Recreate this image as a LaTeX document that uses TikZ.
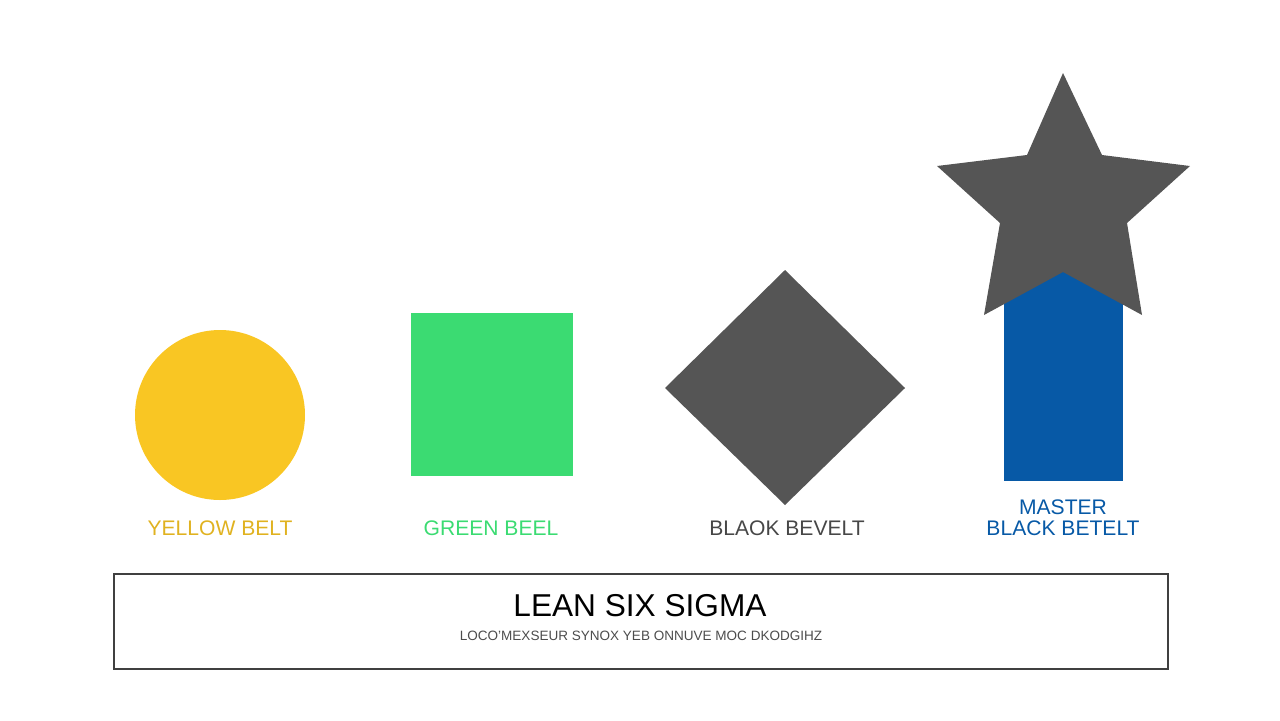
\documentclass[tikz,border=0pt]{standalone}
\usepackage{fontspec}
\setmainfont{Liberation Sans}
\definecolor{beltyellow}{HTML}{F9C623}
\definecolor{beltgreen}{HTML}{3BDB72}
\definecolor{beltgray}{HTML}{555555}
\definecolor{beltblue}{HTML}{0759A6}
\begin{document}
\begin{tikzpicture}[x=0.02cm, y=-0.02cm,
  beltlabel/.style={font=\fontsize{12}{13}\selectfont, inner sep=0pt},
  boxframe/.style={draw=black!75, line width=0.7pt}]
\useasboundingbox (0,0) rectangle (1280,720);
\fill[beltyellow] (220,415) circle (85);
\fill[beltgreen] (411,313) rectangle (573,476);
\fill[beltgray] (785,270) -- (905,388) -- (785,505) -- (665,388) -- cycle;
\fill[beltblue] (1004,250) rectangle (1123,481);
\fill[beltgray] (1063,73) -- (1102,155) -- (1190,166) -- (1127,223) -- (1142,315) -- (1063,272) -- (984,315) -- (1000,223) -- (937,166) -- (1027,155) -- cycle;
\node[beltlabel, text=beltyellow!90!black] (yellow) at (220,528) {YELLOW BELT};
\node[beltlabel, text=beltgreen] (green) at (491,528) {GREEN BEEL};
\node[beltlabel, text=black!72] (black) at (787,528) {BLAOK BEVELT};
\node[beltlabel, text=beltblue] (master) at (1063,507) {MASTER};
\node[beltlabel, text=beltblue] (masterblack) at (1063,528) {BLACK BETELT};
\draw[boxframe] (114,574) rectangle (1168,669);
\node[font=\fontsize{18}{20}\selectfont, inner sep=0pt] (title) at (640,606) {LEAN SIX SIGMA};
\node[font=\fontsize{7.7}{9}\selectfont, text=black!70, inner sep=0pt] (subtitle) at (641,636) {LOCO'MEXSEUR SYNOX YEB ONNUVE MOC DKODGIHZ};
\end{tikzpicture}
\end{document}
